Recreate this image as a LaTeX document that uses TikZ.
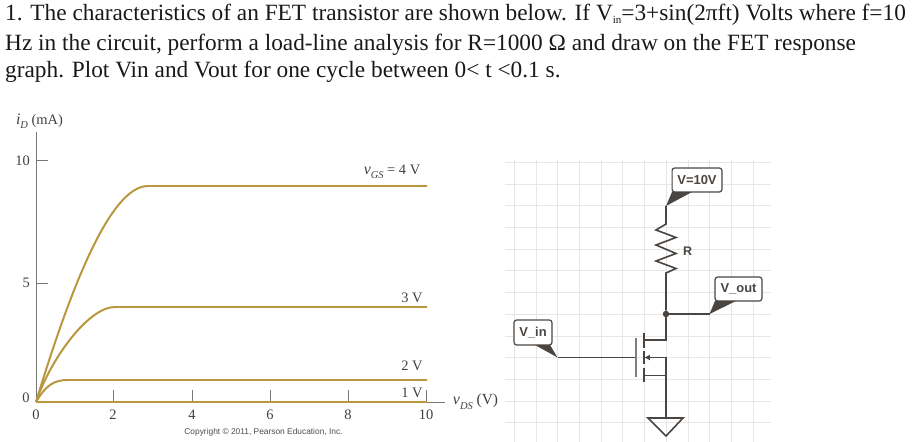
\documentclass[tikz,border=0pt]{standalone}
\usepackage{fontspec}
\setmainfont{Liberation Serif}
\setsansfont{Liberation Sans}
\usetikzlibrary{arrows.meta}
\definecolor{curvegold}{HTML}{B8973F}
\definecolor{axisgray}{HTML}{77787B}
\definecolor{gridgray}{HTML}{E6E6E6}
\definecolor{wiredark}{HTML}{4A4541}
\newcommand{\sub}[2]{{\fontsize{16}{16}\selectfont\textit{#1}}\raisebox{-0.3em}{\fontsize{10.5}{11}\selectfont\textit{#2}}}
\tikzset{
  heading/.style={anchor=base west,inner sep=0pt,font=\fontsize{23.4}{24}\selectfont,text=black!90},
  graphtext/.style={inner sep=0pt,font=\fontsize{14.5}{15}\selectfont,text=black!75},
  curve/.style={curvegold,line width=2pt},
  axis/.style={axisgray,line width=1pt},
  wire/.style={wiredark,line width=1.6pt},
  plate/.style={wiredark,line width=2.8pt},
  callout/.style={draw=wiredark,fill=white,rounded corners=2.5pt,line width=1.2pt,inner sep=0pt,font=\fontsize{13}{13}\selectfont\sffamily\bfseries,text=wiredark},
}
\begin{document}
\begin{tikzpicture}[x=1bp,y=-1bp]
\useasboundingbox (0,0) rectangle (912,442);

% question text
\node (line1) at (5,21)[heading] {1. The characteristics of an FET transistor are shown below. If V\raisebox{-0.12em}{\fontsize{11}{11}\selectfont in}=3+sin(2πft) Volts where f=10};
\node (line2) at (5,51)[heading] {Hz in the circuit, perform a load-line analysis for R=1000 Ω and draw on the FET response};
\node (line3) at (5,77.5)[heading] {graph. Plot Vin and Vout for one cycle between 0< t <0.1 s.};

% graph
\coordinate (O) at (36,402);
\coordinate (ytop) at (36,132);
\coordinate (xend) at (445,402);
\draw [axis] (O) -- (ytop);
\draw [axis] (O) -- (xend);
\foreach \yval/\ypos in {10/161,5/283} {
  \coordinate (yt\yval) at (36,\ypos);
  \coordinate (ye\yval) at (48,\ypos);
  \draw [axis] (yt\yval) -- (ye\yval);
  \node (ylab\yval) at (30,\ypos)[graphtext,anchor=east] {\yval};
}
\foreach \xval/\xpos in {2/113,4/192,6/270,8/348,10/426} {
  \coordinate (xt\xval) at (\xpos,402);
  \coordinate (xe\xval) at (\xpos,390);
  \draw [axis] (xt\xval) -- (xe\xval);
  \node (xlab\xval) at (\xpos,415)[graphtext] {\xval};
}
\node (xlab0) at (36,415)[graphtext] {0};
\node (ylab0) at (26,398)[graphtext] {0};

% curves
\coordinate (c4) at (148,186);
\coordinate (c3) at (115,307);
\coordinate (c2) at (68,380);
\coordinate (e4) at (427,186);
\coordinate (e3) at (427,307);
\coordinate (e2) at (427,380);
\coordinate (e1) at (427,402);
\draw [curve] (O) .. controls (70,290) and (110,186) .. (c4) -- (e4);
\draw [curve] (O) .. controls (50,360) and (88,307) .. (c3) -- (e3);
\draw [curve] (O) .. controls (46,385) and (54,380) .. (c2) -- (e2);
\draw [curve] (O) -- (e1);

\node (idlab) at (39.5,121)[graphtext] {\sub{i}{D} (mA)};
\node (vgs4) at (392,172)[graphtext] {\sub{v}{GS} = 4 V};
\node (vgs3) at (412,298)[graphtext] {3 V};
\node (vgs2) at (412,366)[graphtext] {2 V};
\node (vgs1) at (412,393)[graphtext] {1 V};
\node (vdslab) at (475.5,402)[graphtext,font=\fontsize{15.5}{16}\selectfont] {\sub{v}{DS} (V)};
\node (copy) at (263.5,432)[inner sep=0pt,font=\fontsize{8.4}{9}\selectfont\sffamily,text=black!70] {Copyright © 2011, Pearson Education, Inc.};

% grid
\foreach \gx in {0,...,11} {
  \coordinate (gt\gx) at (514.3+21.7*\gx,160);
  \coordinate (gb\gx) at (514.3+21.7*\gx,442);
  \draw [gridgray,line width=0.8pt] (gt\gx) -- (gb\gx);
}
\foreach \gy in {0,...,12} {
  \coordinate (gl\gy) at (505,162.3+21.7*\gy);
  \coordinate (gr\gy) at (771,162.3+21.7*\gy);
  \draw [gridgray,line width=0.8pt] (gl\gy) -- (gr\gy);
}

% circuit
\coordinate (top) at (666,206);
\coordinate (rtop) at (666,224);
\coordinate (rbot) at (666,273);
\coordinate (drain) at (666,340);
\coordinate (dplate) at (644,340);
\coordinate (source) at (666,357.5);
\coordinate (splate) at (644,357.5);
\coordinate (lower) at (666,375.7);
\coordinate (lplate) at (644,375.7);
\coordinate (gndtop) at (666,418);
\coordinate (gate) at (636,357.5);
\coordinate (inend) at (557.5,357.5);
\coordinate (outend) at (709.5,314);
\node (join) at (666,314)[circle,fill=wiredark,inner sep=0pt,minimum size=6.5pt] {};
\draw [wire] (top) -- (rtop) -- (656,230) -- (676,237.5) -- (656,245) -- (676,253.5) -- (656,261) -- (676,268.5) -- (rbot) -- (join);
\draw [wire] (join) -- (drain) -- (dplate);
\draw [wire] (join) -- (outend);
\draw [wire] (inend) -- (gate);
\draw [wire] (lplate) -- (lower) -- (gndtop);
\draw [wire] (source) -- (lower);
\draw [wire,-{Latex[length=6pt,width=6pt]}] (source) -- (splate);
\draw [wiredark!70,line width=1.8pt] (636,338) -- (636,377);
\draw [plate] (644,333) -- (644,348);
\draw [plate] (644,351) -- (644,364);
\draw [plate] (644,368) -- (644,382);
\draw [wire,line join=miter] (648,418) -- (683,418) -- (666,436) -- cycle;
\node (Rlab) at (687.5,251)[inner sep=0pt,font=\fontsize{12.5}{13}\selectfont\sffamily\bfseries,text=wiredark] {R};

% callouts
\fill [wiredark] (top) -- (672,192) -- (692,192) -- cycle;
\fill [wiredark] (outend) -- (715,301) -- (736,301) -- cycle;
\fill [wiredark] (inend) -- (535,345) -- (550,345) -- cycle;
\node (vdd) at (697,180)[callout,minimum width=50pt,minimum height=24pt] {V=10V};
\node (vout) at (738.5,289)[callout,minimum width=47pt,minimum height=24pt] {V\_out};
\node (vin) at (533,332.5)[callout,minimum width=38pt,minimum height=25pt] {V\_in};
\end{tikzpicture}
\end{document}
